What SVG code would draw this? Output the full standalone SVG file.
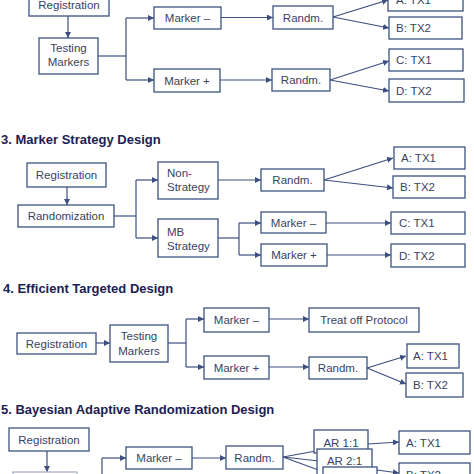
<svg xmlns="http://www.w3.org/2000/svg" width="474" height="474" viewBox="0 0 474 474">
<defs>
<marker id="ah" markerUnits="userSpaceOnUse" markerWidth="6" markerHeight="6" refX="6" refY="3" orient="auto">
<path d="M0,0 L6,3 L0,6 z" fill="#3d4f80"/>
</marker>
<style>
rect{fill:#ffffff;stroke:#3d5282;stroke-width:1.3}
.c line,.c polyline,.c path{fill:none;stroke:#3d4f80;stroke-width:1.2}
.a{marker-end:url(#ah)}
text{font-family:"Liberation Sans",Arial,sans-serif;font-size:11.5px;fill:#3a4262}
.m{text-anchor:middle}
.t{font-weight:bold;font-size:13px;fill:#1b2152}
</style>
</defs>
<rect x="0" y="0" width="474" height="474" style="fill:#ffffff;stroke:none"/>

<!-- connectors -->
<g id="connectors" class="c">
<!-- section 2 -->
<line class="a" x1="68" y1="16" x2="68" y2="38"/>
<polyline points="98,56 126,56"/>
<line x1="126" y1="18" x2="126" y2="80"/>
<line class="a" x1="126" y1="18" x2="154" y2="18"/>
<line class="a" x1="126" y1="80" x2="154" y2="80"/>
<line class="a" x1="221" y1="17.5" x2="273" y2="17.5"/>
<line class="a" x1="220" y1="80" x2="272" y2="80"/>
<line class="a" x1="333" y1="17" x2="388" y2="0"/>
<line class="a" x1="333" y1="17" x2="389" y2="28"/>
<line class="a" x1="330" y1="80" x2="389" y2="61"/>
<line class="a" x1="330" y1="80" x2="389" y2="91"/>
<!-- section 3 -->
<line class="a" x1="67" y1="187" x2="67" y2="205"/>
<line x1="114" y1="216" x2="136" y2="216"/>
<line x1="136" y1="180" x2="136" y2="238"/>
<line class="a" x1="136" y1="180" x2="158" y2="180"/>
<line class="a" x1="136" y1="238" x2="158" y2="238"/>
<line class="a" x1="218" y1="180" x2="261" y2="180"/>
<line class="a" x1="324" y1="180" x2="393" y2="158"/>
<line class="a" x1="324" y1="180" x2="393" y2="188"/>
<line x1="218" y1="238" x2="239" y2="238"/>
<line x1="239" y1="223" x2="239" y2="255"/>
<line class="a" x1="239" y1="223" x2="261" y2="223"/>
<line class="a" x1="239" y1="255" x2="261" y2="255"/>
<line class="a" x1="326" y1="223" x2="391" y2="223"/>
<line class="a" x1="327" y1="255" x2="391" y2="255"/>
<!-- section 4 -->
<line class="a" x1="96" y1="343" x2="110" y2="343"/>
<line x1="168" y1="343" x2="186" y2="343"/>
<line x1="186" y1="319" x2="186" y2="367"/>
<line class="a" x1="186" y1="319" x2="204" y2="319"/>
<line class="a" x1="186" y1="367" x2="204" y2="367"/>
<line class="a" x1="269" y1="319" x2="309" y2="319"/>
<line class="a" x1="269" y1="367" x2="309" y2="367"/>
<line class="a" x1="367" y1="368" x2="406" y2="356"/>
<line class="a" x1="367" y1="368" x2="406" y2="384"/>
<!-- section 5 -->
<line class="a" x1="47" y1="451" x2="47" y2="472"/>
<line x1="102" y1="458" x2="102" y2="480"/>
<line class="a" x1="102" y1="458" x2="126" y2="458"/>
<line class="a" x1="192" y1="458" x2="226" y2="458"/>
<line x1="283" y1="457" x2="316" y2="451"/>
<line x1="283" y1="457" x2="319" y2="461"/>
<line x1="283" y1="457" x2="324" y2="472"/>
<line class="a" x1="368" y1="444" x2="399" y2="442"/>
<line class="a" x1="377" y1="470" x2="399" y2="473"/>
</g>

<!-- section 2 nodes -->
<g id="s2-registration"><rect x="29" y="-7" width="80" height="23"/><text class="m" x="69" y="8.5">Registration</text></g>
<g id="s2-testing"><rect x="39" y="38" width="59" height="36"/><text class="m" x="68.5" y="52">Testing</text><text class="m" x="68.5" y="66">Markers</text></g>
<g id="s2-markerneg"><rect x="154" y="7" width="67" height="22"/><text class="m" x="187.5" y="22">Marker –</text></g>
<g id="s2-markerpos"><rect x="154" y="69" width="66" height="23"/><text class="m" x="187" y="84.5">Marker +</text></g>
<g id="s2-randm1"><rect x="273" y="6" width="60" height="23"/><text class="m" x="303" y="21.5">Randm.</text></g>
<g id="s2-randm2"><rect x="272" y="69" width="58" height="22"/><text class="m" x="301" y="84">Randm.</text></g>
<g id="s2-a"><rect x="388" y="-12" width="75" height="23"/><text x="396" y="3.5">A: TX1</text></g>
<g id="s2-b"><rect x="389" y="17" width="73" height="22"/><text x="396" y="32">B: TX2</text></g>
<g id="s2-c"><rect x="389" y="49" width="74" height="22"/><text x="396" y="64">C: TX1</text></g>
<g id="s2-d"><rect x="389" y="79" width="75" height="23"/><text x="396" y="94.5">D: TX2</text></g>

<!-- section 3 -->
<text class="t" x="1" y="144">3. Marker Strategy Design</text>
<g id="s3-registration"><rect x="27" y="163" width="79" height="24"/><text class="m" x="66.5" y="179">Registration</text></g>
<g id="s3-randomization"><rect x="18" y="205" width="96" height="22"/><text class="m" x="66" y="220">Randomization</text></g>
<g id="s3-nonstrategy"><rect x="158" y="162" width="60" height="37"/><text x="167" y="177">Non-</text><text x="167" y="191">Strategy</text></g>
<g id="s3-mbstrategy"><rect x="158" y="219" width="60" height="38"/><text x="167" y="236">MB</text><text x="167" y="250">Strategy</text></g>
<g id="s3-randm"><rect x="261" y="169" width="63" height="22"/><text class="m" x="292.5" y="184">Randm.</text></g>
<g id="s3-a"><rect x="394" y="147" width="71" height="22"/><text x="401" y="162">A: TX1</text></g>
<g id="s3-b"><rect x="393" y="176" width="72" height="22"/><text x="400" y="191">B: TX2</text></g>
<g id="s3-markerneg"><rect x="261" y="212" width="65" height="21"/><text class="m" x="293.5" y="227">Marker –</text></g>
<g id="s3-markerpos"><rect x="261" y="244" width="66" height="22"/><text class="m" x="294" y="259">Marker +</text></g>
<g id="s3-c"><rect x="391" y="212" width="74" height="22"/><text x="399" y="227">C: TX1</text></g>
<g id="s3-d"><rect x="391" y="244" width="74" height="23"/><text x="399" y="259.5">D: TX2</text></g>

<!-- section 4 -->
<text class="t" x="3" y="293">4. Efficient Targeted Design</text>
<g id="s4-registration"><rect x="17" y="333" width="79" height="21"/><text class="m" x="56.5" y="347.5">Registration</text></g>
<g id="s4-testing"><rect x="110" y="325" width="58" height="37"/><text class="m" x="139" y="340">Testing</text><text class="m" x="139" y="355">Markers</text></g>
<g id="s4-markerneg"><rect x="204" y="308" width="65" height="24"/><text class="m" x="236.5" y="324">Marker –</text></g>
<g id="s4-markerpos"><rect x="204" y="356" width="65" height="23"/><text class="m" x="236.5" y="371.5">Marker +</text></g>
<g id="s4-treatoff"><rect x="309" y="308" width="110" height="24"/><text class="m" x="364" y="324">Treat off Protocol</text></g>
<g id="s4-randm"><rect x="309" y="357" width="58" height="22"/><text class="m" x="338" y="372">Randm.</text></g>
<g id="s4-a"><rect x="407" y="344" width="52" height="24"/><text x="413" y="360">A: TX1</text></g>
<g id="s4-b"><rect x="406" y="373" width="57" height="24"/><text x="413" y="389">B: TX2</text></g>

<!-- section 5 -->
<text class="t" x="1" y="414">5. Bayesian Adaptive Randomization Design</text>
<g id="s5-registration"><rect x="9" y="428" width="80" height="23"/><text class="m" x="49" y="443.5">Registration</text></g>
<g id="s5-testing"><rect x="13" y="472" width="64" height="30" style="stroke:#a8b4cc"/></g>
<g id="s5-markerneg"><rect x="126" y="447" width="66" height="22"/><text class="m" x="159" y="462">Marker –</text></g>
<g id="s5-randm"><rect x="226" y="446" width="57" height="23"/><text class="m" x="254.5" y="461.5">Randm.</text></g>
<g id="s5-ar11"><rect x="314" y="430" width="54" height="23"/><text class="m" x="341" y="447">AR 1:1</text></g>
<g id="s5-ar21"><rect x="317" y="449" width="55" height="30"/><text class="m" x="344.5" y="465">AR 2:1</text></g>
<g id="s5-ar3"><rect x="323" y="467" width="54" height="20"/></g>
<g id="s5-a"><rect x="399" y="431" width="71" height="23"/><text x="406" y="446.5">A: TX1</text></g>
<g id="s5-b"><rect x="399" y="463" width="71" height="23"/><text x="406" y="478.5">B: TX2</text></g>
</svg>
